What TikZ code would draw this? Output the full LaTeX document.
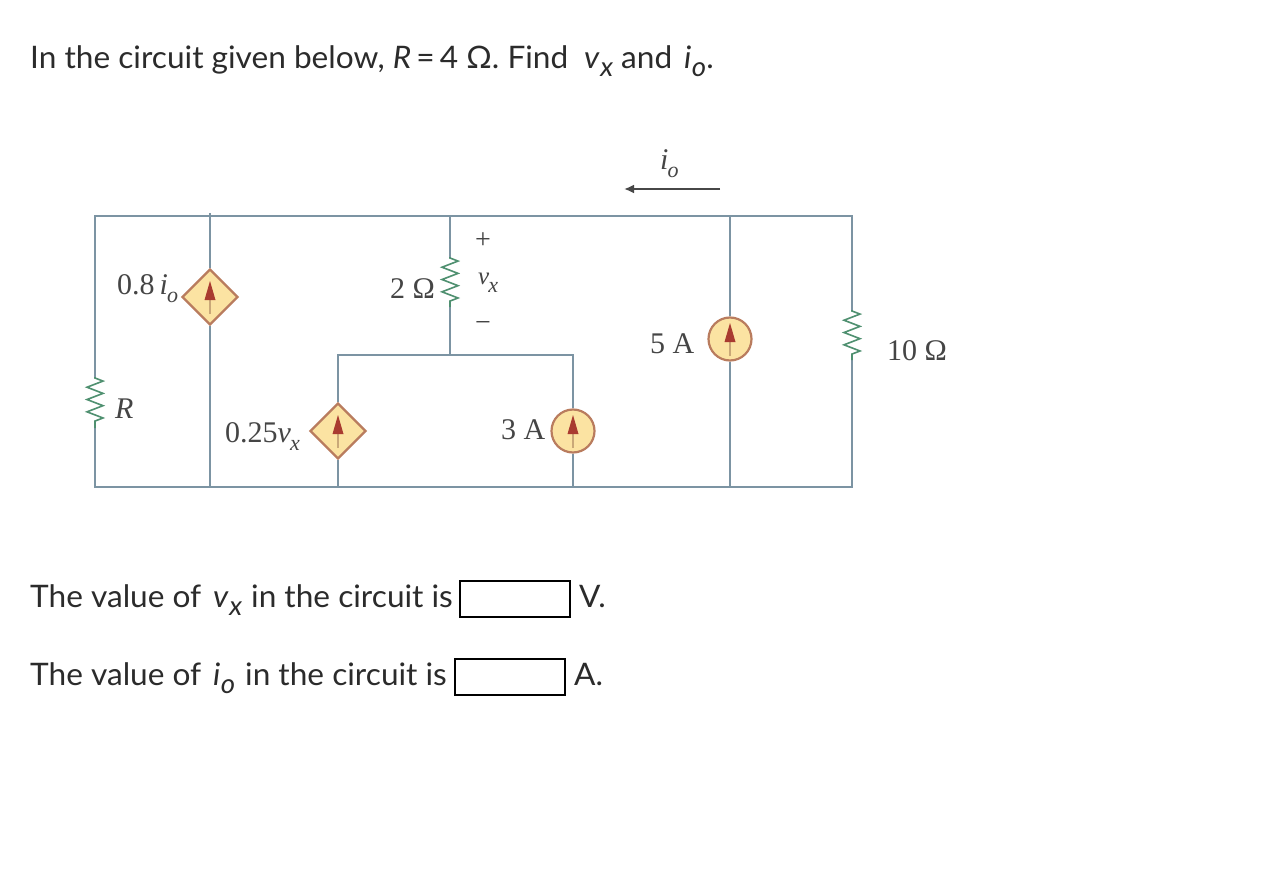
\documentclass[tikz,border=0pt]{standalone}
\usepackage{fontspec}
\setmainfont[FakeStretch=1.02]{Lato}
\newfontfamily\cirfont{Liberation Serif}
\usetikzlibrary{arrows.meta,decorations.pathmorphing,shapes.geometric}
\definecolor{wirec}{HTML}{7C94A3}
\definecolor{resc}{HTML}{4F9070}
\definecolor{srcfill}{HTML}{FBE3A2}
\definecolor{srcline}{HTML}{B97C5E}
\definecolor{arrred}{HTML}{A93B30}
\definecolor{stemc}{HTML}{C9A878}
\definecolor{txt}{HTML}{2B2B2B}
\definecolor{cirtxt}{HTML}{454545}
\newcommand{\qsub}[2]{\textit{#1}\kern0.5pt\raisebox{-8pt}{\fontsize{27}{27}\selectfont\textit{#2}}}
\newcommand{\csub}[2]{\textit{#1}\kern-1pt\raisebox{-8pt}{\fontsize{22}{22}\selectfont\textit{#2}}}
\tikzset{
  x=1pt,y=-1pt,
  wire/.style={draw=wirec,line width=2.4pt},
  resistor/.style={draw=resc,line width=1.6pt,decorate,decoration={zigzag,segment length=12.3pt,amplitude=8pt,pre length=1pt,post length=1pt}},
  depsrc/.style={diamond,draw=srcline,fill=srcfill,line width=2.2pt,minimum width=56pt,minimum height=56pt,inner sep=0pt,aspect=1},
  indsrc/.style={circle,draw=srcline,fill=srcfill,line width=2.2pt,minimum size=43pt,inner sep=0pt},
  qtext/.style={anchor=base west,inner sep=0pt,text=txt,font=\fontsize{31}{36}\selectfont},
  clabel/.style={inner sep=0pt,text=cirtxt,font=\cirfont\fontsize{30}{34}\selectfont},
  answer/.style={draw=black,line width=1.5pt,minimum width=110pt,minimum height=36pt,inner sep=0pt,anchor=north west},
  stem/.style={draw=stemc,line width=2.2pt},
}
\begin{document}
\begin{tikzpicture}
\useasboundingbox (0,0) rectangle (1272,888);
\fill[white] (0,0) rectangle (1272,888);
% question text
\node[qtext] (q1) at (30,69) {In the circuit given below, \textit{R}\,=\,4 Ω. Find};
\node[qtext] (q2) at (584,69) {\qsub{v}{x}};
\node[qtext] (q3) at (621,69) {and};
\node[qtext] (q4) at (684,69) {\qsub{i}{o}.};
\node[qtext] (a1) at (30,607) {The value of};
\node[qtext] (a2) at (213,607) {\qsub{v}{x}};
\node[qtext] (a3) at (251,607) {in the circuit is};
\node[qtext] (a4) at (579,607) {V.};
\node[answer] (box1) at (459,580) {};
\node[qtext] (b1) at (30,685) {The value of};
\node[qtext] (b2) at (213,685) {\qsub{i}{o}};
\node[qtext] (b3) at (245,685) {in the circuit is};
\node[qtext] (b4) at (574,685) {A.};
\node[answer] (box2) at (454,658) {};
% junctions
\coordinate (tl) at (95,216);  \coordinate (tr) at (852,216);
\coordinate (bl) at (95,487);  \coordinate (br) at (852,487);
\coordinate (t1) at (210,216); \coordinate (b1j) at (210,487);
\coordinate (t2) at (450,216);
\coordinate (m1) at (338,355); \coordinate (m2) at (450,355); \coordinate (m3) at (573,355);
\coordinate (b2j) at (338,487); \coordinate (b3j) at (573,487);
\coordinate (t4) at (730,216); \coordinate (b4j) at (730,487);
% resistor ends
\coordinate (rR1) at (95,377);  \coordinate (rR2) at (95,428);
\coordinate (r21) at (450,257); \coordinate (r22) at (450,307);
\coordinate (r101) at (852,310); \coordinate (r102) at (852,360);
% sources
\node[depsrc] (s1) at (210,297) {};
\node[depsrc] (s2) at (338,431) {};
\node[indsrc] (s3) at (573,431) {};
\node[indsrc] (s4) at (730,339) {};
% wires
\draw[wire,line join=miter] (rR1) -- (tl) -- (tr) -- (r101);
\draw[wire,line join=miter] (rR2) -- (bl) -- (br) -- (r102);
\draw[wire] (t1) ++(0,-3) -- (s1.north);
\draw[wire] (s1.south) -- (b1j);
\draw[wire] (t2) -- (r21);
\draw[wire] (r22) -- (m2);
\draw[wire,line join=miter] (s2.north) -- (m1) -- (m3) -- (s3.north);
\draw[wire] (s2.south) -- (b2j);
\draw[wire] (s3.south) -- (b3j);
\draw[wire] (t4) -- (s4.north);
\draw[wire] (s4.south) -- (b4j);
% resistors
\draw[resistor] (rR1) -- (rR2);
\draw[resistor] (r21) -- (r22);
\draw[resistor] (r101) -- (r102);
% source arrows
\foreach \s in {s1,s2,s3,s4}{
  \draw[stem] ([yshift=-17pt]\s.center) -- ([yshift=0pt]\s.center);
  \fill[arrred] ([yshift=16pt]\s.center) -- ([xshift=5.5pt,yshift=-3pt]\s.center) -- ([xshift=-5.5pt,yshift=-3pt]\s.center) -- cycle;
}
% current arrow
\coordinate (ia) at (720,189); \coordinate (ib) at (624,189);
\draw[draw=black!72,line width=2.4pt,-{Latex[length=10pt,width=9pt]}] (ia) -- (ib);
% labels
\node[clabel,anchor=base west] (lio) at (660,170) {\csub{i}{o}};
\node[clabel,anchor=base west] (l08) at (117,294) {0.8\,\csub{i}{o}};
\node[clabel,anchor=base west] (lR) at (115,418) {\textit{R}};
\node[clabel,anchor=base west] (l025) at (225,442) {0.25\csub{v}{x}};
\node[clabel,anchor=base west] (l2) at (390,298) {2 Ω};
\node[clabel,anchor=center,font=\cirfont\fontsize{28}{28}\selectfont] (lp) at (483,241) {+};
\node[clabel,anchor=base west,font=\cirfont\fontsize{25}{25}\selectfont] (lv) at (478,284) {\csub{v}{x}};
\node[clabel,anchor=center,font=\cirfont\fontsize{28}{28}\selectfont] (lm) at (483,327) {−};
\node[clabel,anchor=base west] (l3) at (501,439) {3 A};
\node[clabel,anchor=base west] (l5) at (650,353) {5 A};
\node[clabel,anchor=base west] (l10) at (887,360) {10 Ω};
\end{tikzpicture}
\end{document}
